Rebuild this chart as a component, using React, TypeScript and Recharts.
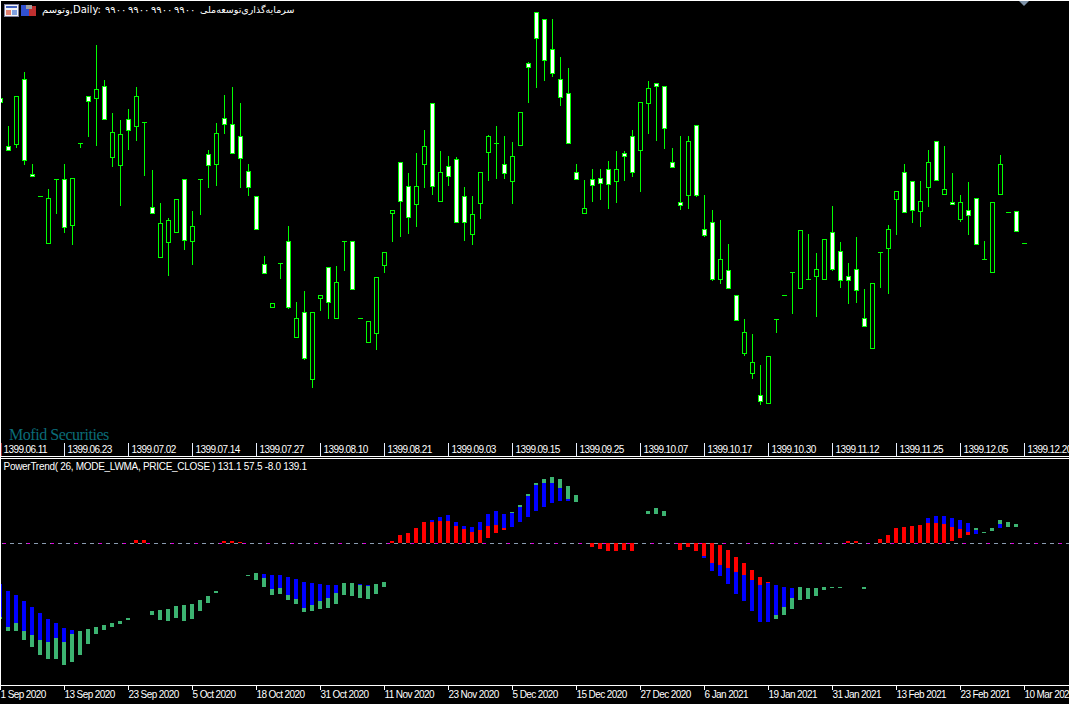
import { Bar, ComposedChart, ReferenceLine, XAxis, YAxis } from 'recharts';

type Range = [number, number] | null;

const opens = [
  362, 314, 315, 380, 286, 264, 217, 281, 281, 235, 317, 363, 361, 373, 303, 295,
  341, 333, 337, 253, 203, 218, 227, 280, 218, 280, 306, 296, 342, 336, 323, 289,
  264, 196, 153, 197, 219, 123, 147, 80, 162, 193, 142, 219, 219, 142, 118, 127,
  194, 247, 297, 274, 256, 295, 356, 258, 294, 300, 264, 226, 256, 308, 317, 296,
  279, 314, 396, 448, 441, 411, 380, 366, 287, 247, 280, 282, 290, 278, 307, 324,
  309, 357, 376, 373, 297, 257, 265, 335, 231, 238, 180, 190, 165, 107, 87, 65,
  57, 141, 165, 188, 172, 180, 184, 180, 227, 209, 184, 191, 142, 112, 208, 212,
  261, 288, 279, 249, 272, 319, 266, 257, 240, 250, 262, 200, 187, 266, 248, 249,
  217,
];
const closes = [
  358, 310, 363, 299, 284, 264, 262, 281, 233, 282, 317, 358, 370, 340, 328, 326,
  330, 363, 337, 247, 237, 240, 260, 219, 233, 280, 295, 327, 336, 307, 301, 273,
  231, 187, 157, 197, 153, 142, 101, 147, 165, 158, 178, 219, 171, 142, 139, 183,
  207, 250, 258, 243, 274, 313, 273, 287, 284, 237, 238, 246, 287, 324, 317, 287,
  304, 347, 392, 422, 400, 387, 362, 316, 280, 252, 274, 277, 275, 290, 304, 288,
  357, 372, 373, 331, 292, 254, 319, 265, 225, 181, 200, 172, 140, 128, 98, 59,
  104, 141, 165, 188, 230, 180, 191, 220, 190, 180, 180, 170, 134, 177, 208, 231,
  269, 248, 250, 259, 297, 280, 271, 255, 257, 245, 216, 200, 257, 296, 248, 229,
  217,
];
const highs = [
  362, 334, 363, 388, 296, 264, 271, 281, 296, 282, 317, 363, 415, 380, 347, 340,
  351, 373, 337, 290, 257, 242, 260, 280, 249, 280, 310, 337, 365, 373, 357, 296,
  264, 204, 157, 197, 234, 158, 169, 147, 165, 193, 194, 219, 219, 142, 139, 183,
  207, 250, 297, 287, 307, 330, 356, 309, 304, 303, 273, 264, 287, 325, 334, 324,
  318, 347, 398, 448, 441, 441, 403, 392, 296, 280, 291, 291, 299, 309, 309, 330,
  358, 379, 376, 373, 312, 324, 324, 335, 265, 250, 240, 216, 165, 141, 126, 95,
  104, 141, 165, 188, 230, 226, 207, 220, 254, 218, 197, 223, 171, 177, 208, 235,
  269, 296, 279, 279, 310, 319, 314, 287, 265, 278, 262, 219, 257, 305, 248, 249,
  217,
];
const lows = [
  358, 310, 312, 295, 284, 264, 217, 246, 227, 215, 312, 323, 314, 340, 293, 254,
  310, 319, 284, 247, 203, 184, 227, 210, 195, 245, 272, 274, 326, 306, 272, 264,
  231, 187, 153, 181, 151, 123, 100, 72, 149, 141, 142, 189, 171, 142, 118, 110,
  187, 218, 223, 226, 233, 272, 265, 258, 274, 237, 219, 215, 241, 279, 281, 281,
  256, 314, 357, 372, 379, 383, 354, 316, 280, 247, 258, 260, 251, 257, 279, 283,
  268, 326, 319, 311, 292, 250, 251, 263, 223, 179, 176, 172, 140, 104, 81, 55,
  57, 127, 165, 146, 172, 180, 143, 180, 189, 172, 156, 157, 133, 112, 172, 166,
  225, 248, 237, 233, 253, 279, 265, 255, 238, 225, 216, 200, 187, 266, 248, 229,
  217,
];

const greenBars: Range[] = [
  [-76, -74], [-88, -84], [-88, -80], [-97, -88], [-104, -92], [-112, -97], [-116, -99], [-116, -95],
  [-122, -99], [-119, -91], [-112, -88], [-101, -86], [-91, -84], [-87, -82], [-84, -80], [-81, -78],
  [-77, -75], null, null, [-72, -68], [-77, -67], [-78, -66], [-75, -63], [-78, -62],
  [-76, -61], [-68, -57], [-60, -53], [-50, -48], null, null, null, [-33, -32],
  [-37, -30], [-44, -35], [-52, -46], [-51, -45], [-57, -52], [-61, -56], [-69, -65], [-68, -62],
  [-66, -58], [-65, -55], [-61, -50], [-52, -40], [-53, -40], [-55, -42], [-56, -43], [-51, -41],
  [-44, -39], null, null, null, null, null, null, null,
  null, null, null, null, null, null, null, null,
  [30, 31], [36, 38], [47, 49], [58, 60], [60, 64], [60, 66], [55, 64], [44, 57],
  [41, 48], null, null, null, null, null, null, null,
  null, [29, 32], [29, 35], [27, 32], null, null, null, null,
  null, null, null, null, null, null, null, null,
  null, [-76, -72], [-72, -64], [-66, -55], [-57, -44], [-56, -45], [-53, -45], [-47, -44],
  [-45, -44], [-45, -44], null, null, [-46, -44], null, null, null,
  null, null, null, null, null, null, null, null,
  null, null, [13, 15], [10, 11], [12, 15], [19, 23], [16, 21], [16, 19],
  null,
];
const blueBars: Range[] = [
  [-74, -41], [-84, -48], [-80, -52], [-88, -58], [-92, -64], [-97, -70], [-99, -76], [-95, -80],
  [-99, -85], [-91, -87], null, null, null, null, null, null,
  null, null, null, null, null, null, null, null,
  null, null, null, null, null, null, null, null,
  null, [-35, -31], [-46, -32], [-45, -32], [-52, -34], [-56, -36], [-65, -39], [-62, -40],
  [-58, -41], [-55, -42], [-50, -42], null, null, [-42, -41], [-43, -42], null,
  null, null, null, null, null, null, [21, 23], [22, 26],
  [22, 28], [17, 21], [14, 17], [11, 16], [13, 21], [17, 29], [18, 32], [15, 29],
  [16, 30], [21, 36], [26, 47], [32, 58], [36, 60], [40, 60], [42, 55], [42, 44],
  null, null, null, null, null, null, null, null,
  null, null, null, null, null, null, null, null,
  [-15, -13], [-28, -20], [-33, -22], [-41, -25], [-51, -29], [-58, -32], [-68, -37], [-79, -42],
  [-79, -40], [-72, -42], [-64, -44], [-55, -45], null, null, null, null,
  null, null, null, null, null, null, null, null,
  null, null, null, null, [20, 25], [20, 27], [19, 27], [16, 25],
  [14, 23], [11, 20], [9, 13], null, null, [15, 19], null, null,
  null,
];
const redBars: Range[] = [
  null, null, null, null, null, null, null, null,
  null, null, null, null, null, null, null, null,
  null, [0, 3], [0, 3], null, null, null, null, null,
  null, null, null, null, [0, 2], [0, 2], [0, 1], null,
  null, null, null, null, null, null, null, null,
  null, null, null, null, null, null, null, null,
  null, [0, 2], [0, 8], [0, 10], [0, 15], [0, 21], [0, 21], [0, 22],
  [0, 22], [0, 17], [0, 14], [0, 11], [0, 13], [5, 17], [10, 18], [13, 15],
  null, null, null, null, null, null, null, null,
  null, null, [-4, 0], [-6, 0], [-8, 0], [-8, 0], [-7, 0], [-8, 0],
  null, null, null, null, null, [-7, 0], [-4, 0], [-8, 0],
  [-13, 0], [-20, 0], [-22, -2], [-25, -7], [-29, -14], [-32, -20], [-37, -27], [-42, -34],
  [-40, -39], null, null, null, null, null, null, null,
  null, null, [0, 2], [0, 2], null, null, [0, 4], [0, 8],
  [0, 15], [0, 16], [0, 17], [0, 18], [0, 20], [0, 20], [0, 19], [2, 16],
  [5, 14], [8, 11], null, null, null, null, null, null,
  null,
];

const tickIndexes = [0, 8, 16, 24, 32, 40, 48, 56, 64, 72, 80, 88, 96, 104, 112, 120, 128];
const shamsiLabels = [
  '1399.06.11', '1399.06.23', '1399.07.02', '1399.07.14', '1399.07.27', '1399.08.10',
  '1399.08.21', '1399.09.03', '1399.09.15', '1399.09.25', '1399.10.07', '1399.10.17',
  '1399.10.30', '1399.11.12', '1399.11.25', '1399.12.05', '1399.12.20',
];
const dateLabels = [
  '1 Sep 2020', '13 Sep 2020', '23 Sep 2020', '5 Oct 2020', '18 Oct 2020', '31 Oct 2020',
  '11 Nov 2020', '23 Nov 2020', '5 Dec 2020', '15 Dec 2020', '27 Dec 2020', '6 Jan 2021',
  '19 Jan 2021', '31 Jan 2021', '13 Feb 2021', '23 Feb 2021', '10 Mar 2021',
];

const candles = opens.map((open, index) => ({
  index,
  wick: [lows[index], highs[index]],
  body: [Math.min(open, closes[index]), Math.max(open, closes[index])],
  falling: open > closes[index],
}));
const histogram = opens.map((_, index) => ({
  index,
  green: greenBars[index],
  blue: blueBars[index],
  red: redBars[index],
}));

const GREEN = '#00ff00';
const LABEL_FONT = '"Liberation Sans", sans-serif';

// recharts floors the bar offset, so a 1px wick lands half a pixel left of the body centre
function CandleWick({ x, y, height }: any) {
  if (!(height >= 1)) return null;
  return <rect x={x + 0.5} y={y} width={1} height={height} fill={GREEN} shapeRendering="crispEdges" />;
}

function CandleBody({ x, y, width, height, payload }: any) {
  if (!(height >= 1)) {
    return <line x1={x - 0.5} x2={x + width + 0.5} y1={Math.floor(y) + 0.5} y2={Math.floor(y) + 0.5} stroke={GREEN} />;
  }
  return (
    <rect
      x={x}
      y={Math.floor(y) + 0.5}
      width={width}
      height={Math.round(height)}
      fill={payload.falling ? '#ffffff' : '#000000'}
      stroke={GREEN}
      shapeRendering="crispEdges"
    />
  );
}

function ShamsiTick({ x, payload }: any) {
  const first = payload.value === 0;
  const lineX = first ? x + 1 : x;
  return (
    <g>
      <line x1={lineX} x2={lineX} y1={443} y2={456} stroke={first ? '#a03030' : '#e8f0ff'} />
      <text x={x + 3} y={453} fill="#ffffff" fontSize={10} fontFamily={LABEL_FONT} letterSpacing={-0.58}>
        {shamsiLabels[tickIndexes.indexOf(payload.value)]}
      </text>
    </g>
  );
}

function DateTick({ x, payload }: any) {
  return (
    <g>
      <line x1={x + 0.5} x2={x + 0.5} y1={225} y2={230} stroke="#ffffff" />
      <text x={x + 0.5} y={238} fill="#ffffff" fontSize={10} fontFamily={LABEL_FONT} letterSpacing={-0.6}>
        {dateLabels[tickIndexes.indexOf(payload.value)]}
      </text>
    </g>
  );
}

function Rule({ left, top, width, height, color = '#ffffff' }: any) {
  return <div style={{ position: 'absolute', left, top, width, height, background: color }} />;
}

function Label({ left, top, size = 10, font = '"DejaVu Sans"', color = '#ffffff', spacing = 0, children }: any) {
  return (
    <span
      style={{
        position: 'absolute',
        left,
        top,
        color,
        fontSize: size,
        fontFamily: font,
        letterSpacing: spacing,
        lineHeight: '12px',
        whiteSpace: 'nowrap',
      }}
    >
      {children}
    </span>
  );
}

export default function App() {
  return (
    <div style={{ position: 'absolute', left: 0, top: 0, width: 1069, height: 704, background: '#000', overflow: 'hidden' }}>
      <div style={{ position: 'absolute', left: 0, top: 0 }}>
        <ComposedChart width={1069} height={456} data={candles} margin={{ top: 0, left: 0.5, right: 0.5, bottom: 0 }}>
          <XAxis
            xAxisId="wick"
            type="number"
            dataKey="index"
            domain={[0, 133.5]}
            ticks={tickIndexes}
            interval={0}
            height={13}
            axisLine={false}
            tickLine={false}
            tickSize={0}
            tickMargin={0}
            tick={ShamsiTick}
          />
          <XAxis xAxisId="body" type="number" dataKey="index" domain={[0, 133.5]} hide />
          <YAxis hide domain={[17, 460]} allowDataOverflow />
          <Bar xAxisId="wick" dataKey="wick" barSize={1} shape={CandleWick} isAnimationActive={false} />
          <Bar xAxisId="body" dataKey="body" barSize={4} shape={CandleBody} isAnimationActive={false} />
        </ComposedChart>
      </div>

      <div style={{ position: 'absolute', left: 0, top: 460 }}>
        <ComposedChart width={1069} height={244} data={histogram} margin={{ top: 0, left: 0, right: 0, bottom: 0 }}>
          <XAxis
            xAxisId="green"
            type="number"
            dataKey="index"
            domain={[0, 133.625]}
            ticks={tickIndexes}
            interval={0}
            height={19}
            axisLine={false}
            tickLine={false}
            tickSize={0}
            tickMargin={0}
            tick={DateTick}
          />
          <XAxis xAxisId="blue" type="number" dataKey="index" domain={[0, 133.625]} hide />
          <XAxis xAxisId="red" type="number" dataKey="index" domain={[0, 133.625]} hide />
          <YAxis hide domain={[-142, 83]} allowDataOverflow />
          <Bar xAxisId="green" dataKey="green" barSize={4} fill="#3cb371" isAnimationActive={false} />
          <Bar xAxisId="blue" dataKey="blue" barSize={4} fill="#0000ff" isAnimationActive={false} />
          <Bar xAxisId="red" dataKey="red" barSize={4} fill="#ff0000" isAnimationActive={false} />
          {/* half a unit below zero so the 1px line sits on one pixel row */}
          <ReferenceLine xAxisId="green" y={-0.5} stroke="#8a9bb0" strokeDasharray="4 4" strokeDashoffset={-2} />
          <ReferenceLine xAxisId="green" y={-0.5} stroke="#e000e0" strokeDasharray="3 21" strokeDashoffset={-3} />
        </ComposedChart>
      </div>

      <Rule left={0} top={0} width={1069} height={1} />
      <Rule left={0} top={0} width={1} height={686} />
      <Rule left={0} top={456} width={1069} height={1} />
      <Rule left={0} top={458} width={1069} height={1} />
      <Rule left={0} top={685} width={1069} height={1} />

      <div
        style={{
          position: 'absolute',
          left: 1019,
          top: 1,
          width: 0,
          height: 0,
          borderLeft: '5px solid transparent',
          borderRight: '5px solid transparent',
          borderTop: '5px solid #7f93a8',
        }}
      />

      <div style={{ position: 'absolute', left: 4, top: 4, width: 13, height: 11, background: '#f4f4f4', border: '1px solid #8080a0' }}>
        <div style={{ position: 'absolute', left: 1, top: 1, width: 11, height: 2, background: '#4060c0' }} />
        <div style={{ position: 'absolute', left: 1, top: 5, width: 5, height: 5, background: '#e08070' }} />
        <div style={{ position: 'absolute', left: 7, top: 5, width: 5, height: 5, background: '#80a0e0' }} />
      </div>
      <div style={{ position: 'absolute', left: 21, top: 5, width: 8, height: 11, background: '#3050d0' }} />
      <div style={{ position: 'absolute', left: 29, top: 6, width: 7, height: 10, background: '#c03030' }} />
      <div style={{ position: 'absolute', left: 26, top: 5, width: 6, height: 4, background: '#a0a0a0' }} />

      <Label left={42} top={4}>وتوسم,</Label>
      <Label left={73} top={4}>Daily:</Label>
      <Label left={105} top={4}>۹۹۰۰</Label>
      <Label left={128} top={4}>۹۹۰۰</Label>
      <Label left={151} top={4}>۹۹۰۰</Label>
      <Label left={174} top={4}>۹۹۰۰</Label>
      <Label left={200} top={4} size={9.5}>سرمایه‌گذاری‌توسعه‌ملی</Label>

      <Label left={9} top={429} size={16} font='"Liberation Serif", serif' color="#0b6c78" spacing={-0.45}>Mofid Securities</Label>
      <Label left={3.5} top={461} size={10} font={LABEL_FONT} spacing={-0.29}>
        PowerTrend( 26, MODE_LWMA, PRICE_CLOSE ) 131.1 57.5 -8.0 139.1
      </Label>
    </div>
  );
}
